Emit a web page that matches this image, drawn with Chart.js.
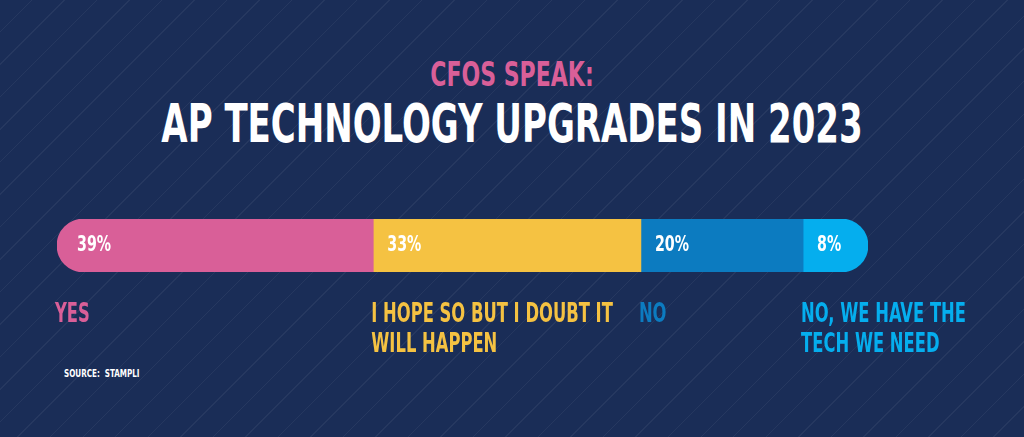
<!DOCTYPE html>
<html><head><meta charset="utf-8">
<script src="https://cdn.jsdelivr.net/npm/chart.js@4"></script>
<style>
html,body{margin:0;padding:0;width:1024px;height:437px;overflow:hidden}
body{background:#1a2d57 repeating-linear-gradient(135deg,rgba(255,255,255,0) 0 22px,rgba(255,255,255,0.05) 22px 23px);position:relative;font-family:'DejaVu Sans Condensed',sans-serif}
.t1{position:absolute;top:54px;left:0;width:1024px;text-align:center;color:#d95f98;font-size:34px;font-weight:bold;transform:scaleX(0.72)}
.t2{position:absolute;top:92px;left:0;width:1024px;text-align:center;color:#fff;font-size:54px;font-weight:bold;transform:scaleX(0.7)}
.src{position:absolute;top:368px;left:64px;color:#fff;font-size:10px;font-weight:bold;transform:scaleX(0.8);transform-origin:left}
canvas{position:absolute;left:0;top:0}
</style></head><body>
<div class="t1">CFOS SPEAK:</div>
<div class="t2">AP TECHNOLOGY UPGRADES IN 2023</div>
<div class="src">SOURCE:&nbsp; STAMPLI</div>
<div style="position:absolute;left:0;top:0;width:1024px;height:437px"><canvas id="c"></canvas></div>
<script>
const categories=[["YES"],["I HOPE SO BUT I DOUBT IT","WILL HAPPEN"],["NO"],["NO, WE HAVE THE","TECH WE NEED"]];
const values=[39,33,20,8];
const colors=['#d95f98','#f5c242','#0c7bc0','#05aeee'];
const FONT="'DejaVu Sans Condensed',sans-serif";
const datasets=values.map((v,i)=>({data:[v],backgroundColor:colors[i],borderSkipped:false,
 borderRadius:i===0?{topLeft:27,bottomLeft:27}:i===values.length-1?{topRight:27,bottomRight:27}:0,
 barPercentage:1,categoryPercentage:1}));
function sText(ctx,t,x,y,s){ctx.save();ctx.translate(x,y);ctx.scale(s,1);ctx.fillText(t,0,0);ctx.restore();}
const labelPlugin={id:'lbl',afterDatasetsDraw(ch){
 const ctx=ch.ctx;ctx.save();
 ch.data.datasets.forEach((d,i)=>{
  const bar=ch.getDatasetMeta(i).data[0];
  const left=bar.base, yc=bar.y;
  ctx.fillStyle='#fff';ctx.font='bold 22px '+FONT;ctx.textBaseline='middle';ctx.textAlign='left';
  sText(ctx,values[i]+'%',left+(i===0?20:i===3?14:14),yc,0.72);
  ctx.fillStyle=colors[i];ctx.font='bold 26px '+FONT;ctx.textBaseline='top';
  categories[i].forEach((ln,k)=>sText(ctx,ln,left-2,302+k*30,0.7));
 });
 ctx.restore();}};
new Chart(document.getElementById('c'),{type:'bar',
 data:{labels:['a'],datasets},
 options:{indexAxis:'y',responsive:true,maintainAspectRatio:false,animation:false,
  layout:{padding:{left:57,right:156,top:219,bottom:165}},
  plugins:{legend:{display:false},tooltip:{enabled:false}},
  scales:{x:{stacked:true,min:0,max:100,display:false},y:{stacked:true,display:false}}},
 plugins:[labelPlugin]});
</script></body></html>
